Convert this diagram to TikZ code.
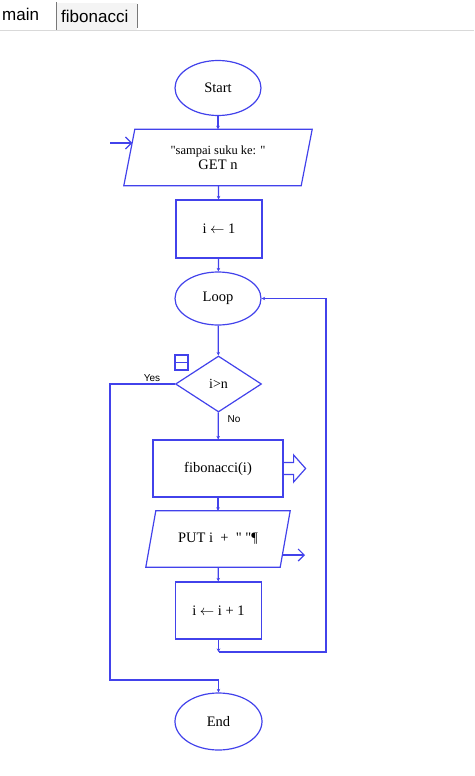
\documentclass[tikz,border=0pt]{standalone}
\usepackage{fontspec}
\setmainfont{Liberation Serif}
\setsansfont{Liberation Sans}
\newfontfamily\rawserif{Liberation Serif}
\usetikzlibrary{shapes.geometric,arrows.meta}
\definecolor{fc}{RGB}{66,66,235}
\definecolor{tabgray}{RGB}{244,244,244}
\definecolor{tabline}{RGB}{120,120,120}
\begin{document}
\begin{tikzpicture}[x=1pt,y=-1pt,
  term/.style={ellipse, draw=fc, line width=1.2pt, inner sep=0, font=\fontsize{14.5}{15}\selectfont},
  proc/.style={rectangle, draw=fc, line width=1.2pt, inner sep=0, font=\fontsize{14.5}{15}\selectfont},
  iobox/.style={rectangle, inner sep=0, font=\rawserif\fontsize{14.5}{15}\selectfont, align=center},
  outline/.style={draw=fc, line width=1.2pt},
  conn/.style={draw=fc, line width=1.2pt, -{Stealth[length=3.5pt,width=3.5pt]}},
  barb/.style={draw=fc, line width=1.2pt, -{Straight Barb[length=6pt,width=12pt]}},
  lbl/.style={font=\sffamily\fontsize{10}{11}\selectfont, inner sep=0}]
\useasboundingbox (0,0) rectangle (474,776);
% tab bar
\fill[tabgray] (56,3) rectangle (137,30);
\draw[black!15] (0,30.5) -- (474,30.5);
\draw[tabline, line width=0.8pt] (56,2) -- (56,30);
\draw[tabline, line width=0.8pt] (137,4) -- (137,28);
\node[font=\sffamily\fontsize{17}{18}\selectfont, anchor=west, inner sep=0] (tabmain) at (2,14) {main};
\node[font=\sffamily\fontsize{17}{18}\selectfont, anchor=west, inner sep=0] (tabfib) at (61,16) {fibonacci};
% nodes
\node[term, minimum width=86pt, minimum height=55pt] (start) at (218,88) {Start};
\node[iobox, minimum width=188pt, minimum height=56pt] (get) at (218,157.5)
  {{\fontsize{12.5}{14}\selectfont "sampai suku ke: "}\\GET n};
\draw[outline] ([xshift=11pt]get.north west) -- (get.north east) -- ([xshift=-11pt]get.south east) -- (get.south west) -- cycle;
\node[proc, minimum width=86pt, minimum height=58pt] (init) at (219,229) {i $\leftarrow$ 1};
\node[term, minimum width=86pt, minimum height=53pt] (loop) at (218,298.5) {Loop};
\node[diamond, draw=fc, line width=1.2pt, inner sep=0, minimum width=86pt, minimum height=56pt, font=\fontsize{14}{15}\selectfont] (dec) at (218.5,384) {i>n};
\node[proc, minimum width=130pt, minimum height=57pt] (fib) at (218,468.5) {fibonacci(i)};
\node[iobox, minimum width=144pt, minimum height=56pt] (put) at (218,539) {PUT i \ + \ " "¶};
\draw[outline] ([xshift=10pt]put.north west) -- (put.north east) -- ([xshift=-10pt]put.south east) -- (put.south west) -- cycle;
\node[proc, minimum width=86pt, minimum height=57pt] (inc) at (218.5,610.5) {i $\leftarrow$ i + 1};
\node[term, minimum width=87pt, minimum height=57pt] (end) at (218.5,721.5) {End};
% small box symbol
\node[rectangle, draw=fc, line width=1.2pt, minimum width=13pt, minimum height=15pt, inner sep=0] (sym) at (181.5,362.5) {};
\draw[fc, line width=1.2pt] (sym.west) -- (sym.east);
% main flow
\draw[conn] (start) -- (get);
\draw[conn] (get) -- (init);
\draw[conn] (init) -- (loop);
\draw[conn] (loop) -- (dec);
\draw[conn] (dec) -- (fib);
\draw[conn] (fib) -- (put);
\draw[conn] (put) -- (inc);
% loop back
\coordinate (j1) at (218.5,652);
\coordinate (lb) at (326,652);
\draw[conn] (inc.south) -- (j1);
\draw[conn] (j1) -- (lb) |- (loop.east);
% yes branch
\coordinate (yc) at (110,680);
\draw[conn] (dec.west) -| (yc) -| (end.north);
\node[lbl] (yes) at (152,378) {Yes};
\node[lbl] (no) at (234,419) {No};
% input arrow
\coordinate (inp) at (110,143);
\coordinate (inpend) at (132.3,143);
\draw[barb] (inp) -- (inpend);
% output arrow
\coordinate (outs) at (282,555);
\coordinate (oute) at (305,555);
\draw[barb] (outs) -- (oute);
% block arrow for subroutine call
\draw[outline, line join=miter] (fib.east) ++(0,-6) -- ++(10,0) -- ++(0,-7.5) -- ++(12,13.5) -- ++(-12,13.5) -- ++(0,-7.5) -- ++(-10,0);
\end{tikzpicture}
\end{document}
